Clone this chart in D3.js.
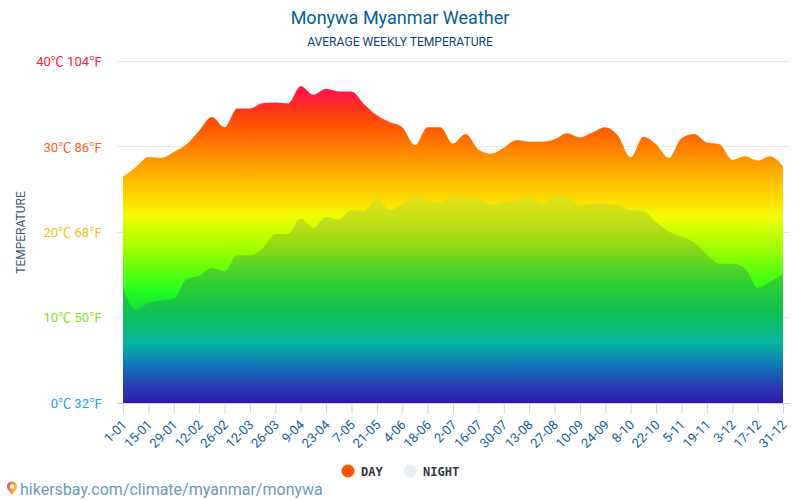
<!DOCTYPE html>
<html><head><meta charset="utf-8">
<script src="https://cdn.jsdelivr.net/npm/d3@7"></script>
<style>html,body{margin:0;padding:0;background:#fff}svg{display:block}text{font-family:Roboto,sans-serif}</style>
</head><body><svg id="c" width="800" height="500"></svg>
<script>
const weeks=["1-01","8-01","15-01","22-01","29-01","5-02","12-02","19-02","26-02","5-03","12-03","19-03","26-03","2-04","9-04","16-04","23-04","30-04","7-05","14-05","21-05","28-05","4-06","11-06","18-06","25-06","2-07","9-07","16-07","23-07","30-07","6-08","13-08","20-08","27-08","3-09","10-09","17-09","24-09","1-10","8-10","15-10","22-10","29-10","5-11","12-11","19-11","26-11","3-12","10-12","17-12","24-12","31-12"];
const dayTemps=[26.5,27.6,28.8,28.7,29.4,30.3,31.9,33.5,32.3,34.5,34.5,35.1,35.2,35.1,37.1,36.1,36.8,36.5,36.5,35.0,33.7,32.9,32.3,30.2,32.3,32.3,30.4,31.5,29.7,29.2,29.9,30.8,30.6,30.6,30.9,31.6,31.1,31.7,32.3,31.3,28.8,31.2,30.3,28.7,31.0,31.5,30.5,30.3,28.5,28.9,28.4,28.9,27.7];
const nightTemps=[13.5,10.9,11.7,12.0,12.2,14.5,14.9,15.8,15.4,17.3,17.3,18.1,19.8,19.8,21.6,20.5,21.8,21.5,22.6,22.5,24.0,22.6,23.3,24.2,23.7,23.5,24.2,24.1,23.9,23.2,23.6,23.7,24.1,23.3,24.3,24.2,23.2,23.3,23.3,23.2,22.6,22.5,21.2,20.1,19.5,18.8,17.4,16.3,16.3,15.8,13.5,14.2,15.1];
const tempTicks=[0,10,20,30,40];
const tempColors=["#2b9fd8","#86e01a","#eec20e","#ff5a22","#f5203c"];
const dayStops=[[0,"#3018b0"],[2.1,"#2840b0"],[4.1,"#1070b8"],[7.1,"#08b8a0"],[10,"#10cc50"],[13,"#20ff20"],[17.5,"#90ff00"],[21.8,"#f0ff00"],[23.5,"#ffe000"],[25.8,"#ffc000"],[28.6,"#ff9400"],[32,"#ff5c00"],[34,"#ff3c10"],[36,"#ff1a40"],[40,"#ff0060"]];
const nightStops=[[0,"#3018b0"],[2.1,"#2840b0"],[4.1,"#1070b8"],[7.1,"#08b8a0"],[10.6,"#10c050"],[14.2,"#30d030"],[19.4,"#a4dc12"],[21.8,"#c8e018"],[23.7,"#dfe015"],[40,"#e0e010"]];
const gridCol="#e6e6e6",axisCol="#ccd6eb";

const svg=d3.select("#c");
const x=d3.scalePoint().domain(weeks).range([123,783]);
const y=d3.scaleLinear().domain([0,40]).range([403,61.5]);
const area=d3.area().x((d,i)=>x(weeks[i])).y0(y(0)).y1(d=>y(d)).curve(d3.curveMonotoneX);
const defs=svg.append("defs");
function grad(id,stops){
  const g=defs.append("linearGradient").attr("id",id).attr("gradientUnits","userSpaceOnUse")
    .attr("x1",0).attr("x2",0).attr("y1",y(0)).attr("y2",y(40));
  stops.forEach(s=>g.append("stop").attr("offset",s[0]/40).attr("stop-color",s[1]));
}
grad("gDay",dayStops);grad("gNight",nightStops);
const pinGrad=defs.append("linearGradient").attr("id","gPin").attr("x1",0).attr("x2",1).attr("y1",0).attr("y2",.3);
pinGrad.append("stop").attr("offset",0).attr("stop-color","#e2483f");
pinGrad.append("stop").attr("offset",.55).attr("stop-color","#f0903a");
pinGrad.append("stop").attr("offset",1).attr("stop-color","#f5c83a");

svg.append("g").selectAll("line").data(tempTicks.slice(1)).join("line")
  .attr("x1",117).attr("x2",790).attr("y1",d=>Math.floor(y(d))+.5).attr("y2",d=>Math.floor(y(d))+.5)
  .attr("stroke",gridCol);
svg.append("path").datum(dayTemps).attr("d",area).attr("fill","url(#gDay)");
svg.append("path").datum(nightTemps).attr("d",area).attr("fill","url(#gNight)");

// x axis
const xa=svg.append("g").attr("transform","translate(0,403.5)")
  .call(d3.axisBottom(x).tickValues(weeks.filter((d,i)=>i%2==0)).tickSize(10).tickSizeOuter(0));
xa.select(".domain").remove();
xa.selectAll("line").attr("stroke",axisCol);
xa.append("line").attr("x1",117).attr("x2",790).attr("stroke",axisCol);
xa.selectAll("text").attr("font-family","Roboto").attr("font-size",13).attr("fill","#11609c")
  .attr("text-anchor","end").attr("dy",null).attr("y",null)
  .attr("transform","translate(4,22) rotate(-45)");

// y axis
const ya=svg.append("g").attr("transform","translate(102,0)")
  .call(d3.axisLeft(y).tickValues(tempTicks).tickSize(0).tickPadding(0).tickFormat(t=>`${t}℃ ${t*9/5+32}℉`));
ya.select(".domain").remove();
ya.selectAll("text").style("font-family","Roboto,'Noto Sans CJK JP'").attr("font-size",13).attr("fill",(d,i)=>tempColors[i]);

svg.append("text").attr("x",400).attr("y",24).attr("text-anchor","middle").attr("font-size",18).attr("fill","#05609c").text("Monywa Myanmar Weather");
svg.append("text").attr("x",400).attr("y",46).attr("text-anchor","middle").attr("font-size",12.1).attr("fill","#0b4478").text("AVERAGE WEEKLY TEMPERATURE");
svg.append("text").attr("transform","translate(25,232.5) rotate(-90)").attr("text-anchor","middle").attr("font-size",12).attr("fill","#445a70").text("TEMPERATURE");

const legend=[["DAY","#ff5000",348],["NIGHT","#e8eef5",410]];
legend.forEach(l=>{
  svg.append("circle").attr("cx",l[2]).attr("cy",471).attr("r",6.5).attr("fill",l[1]);
  svg.append("text").attr("x",l[2]+13).attr("y",475.5).attr("font-size",12).attr("font-weight","bold")
    .style("font-family","'DejaVu Sans Mono',monospace").attr("fill","#333844").text(l[0]);
});
// footer
const pin=svg.append("g").attr("transform","translate(12,487.5)");
pin.append("path").attr("d","M0,8 C-1.5,4.5 -5,2.5 -5,-1 A5,5 0 0 1 5,-1 C5,2.5 1.5,4.5 0,8Z").attr("fill","url(#gPin)");
pin.append("circle").attr("cy",-1).attr("r",2.2).attr("fill","#fff");
svg.append("text").attr("x",20).attr("y",495).attr("font-size",16).attr("fill","#6a9bb9").text("hikersbay.com/climate/myanmar/monywa");
</script></body></html>
